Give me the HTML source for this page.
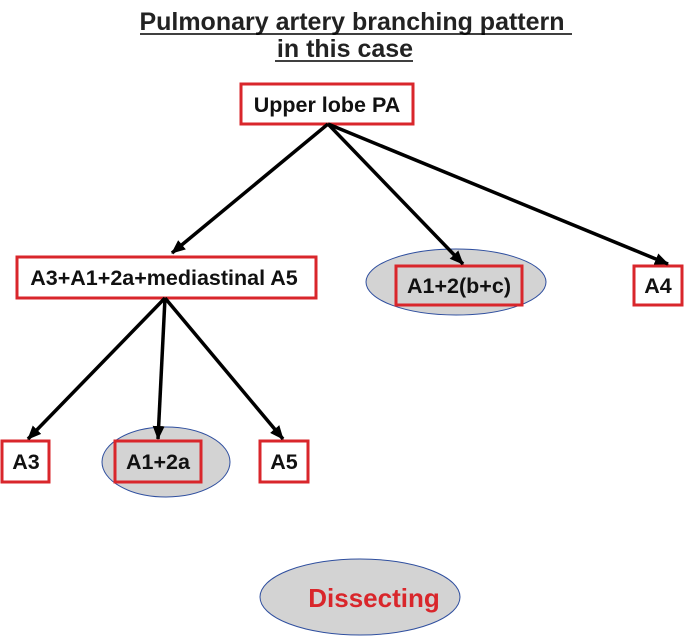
<!DOCTYPE html>
<html><head><style>body{margin:0;background:#fff}</style></head><body>
<svg width="685" height="638" viewBox="0 0 685 638" xmlns="http://www.w3.org/2000/svg" font-family="Liberation Sans, sans-serif" font-weight="bold">
<defs><marker id="b" markerWidth="14" markerHeight="12" refX="13" refY="6" orient="auto" markerUnits="userSpaceOnUse"><path d="M0,0 L14,6 L0,12 z" fill="#000"/></marker></defs>
<text x="352" y="30" font-size="25" text-anchor="middle" fill="#222">Pulmonary artery branching pattern</text>
<line x1="140" y1="34" x2="572" y2="34" stroke="#000" stroke-width="1.5"/>
<text x="345" y="57" font-size="25" text-anchor="middle" fill="#222">in this case</text>
<line x1="275" y1="61" x2="413" y2="61" stroke="#000" stroke-width="1.5"/>
<g fill="#d3d3d3" stroke="#2f4f9f" stroke-width="1">
<ellipse cx="456" cy="282" rx="90" ry="33"/>
<ellipse cx="166" cy="462" rx="64" ry="35"/>
<ellipse cx="360" cy="597" rx="100" ry="38"/>
</g>
<g fill="#fff" stroke="#d9262b" stroke-width="3">
<rect x="241" y="84" width="172" height="40"/>
<rect x="17" y="257" width="299" height="41"/>
<rect x="396" y="266" width="126" height="39" fill="#d3d3d3"/>
<rect x="634" y="266" width="48" height="39"/>
<rect x="2" y="441" width="47" height="41"/>
<rect x="115" y="441" width="86" height="41" fill="#d3d3d3"/>
<rect x="260" y="441" width="48" height="41"/>
</g>
<g stroke="#000" stroke-width="3.5" fill="none">
<line x1="328" y1="124" x2="172" y2="253" marker-end="url(#b)"/>
<line x1="328" y1="124" x2="463" y2="264" marker-end="url(#b)"/>
<line x1="328" y1="124" x2="668" y2="264" marker-end="url(#b)"/>
<line x1="165" y1="298" x2="28" y2="439" marker-end="url(#b)"/>
<line x1="165" y1="298" x2="158" y2="439" marker-end="url(#b)"/>
<line x1="165" y1="298" x2="283" y2="439" marker-end="url(#b)"/>
</g>
<g font-size="21.5" text-anchor="middle" fill="#111">
<text x="327" y="112">Upper lobe PA</text>
<text x="164" y="285">A3+A1+2a+mediastinal A5</text>
<text x="459" y="293">A1+2(b+c)</text>
<text x="658" y="293">A4</text>
<text x="26" y="469">A3</text>
<text x="158" y="469">A1+2a</text>
<text x="284" y="469">A5</text>
</g>
<text x="374" y="607" font-size="26" text-anchor="middle" fill="#d9262b">Dissecting</text>
</svg>
</body></html>
